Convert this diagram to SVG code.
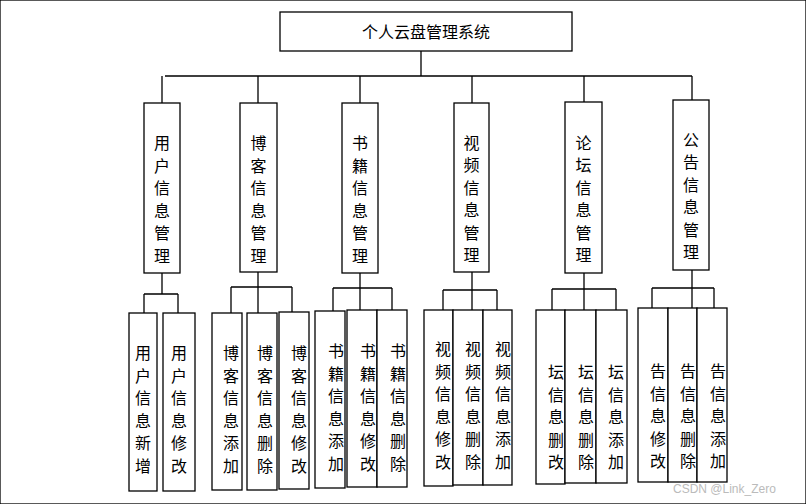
<svg xmlns="http://www.w3.org/2000/svg" width="806" height="504" viewBox="0 0 806 504">
<style>
rect{fill:#fff;stroke:#000;stroke-width:1.3}
.c path{fill:none;stroke:#000;stroke-width:1.3}
text{font-family:"Noto Sans CJK SC","Noto Sans",sans-serif;font-size:16px;fill:#000;text-anchor:middle}
.wm{font-family:"Liberation Sans",sans-serif;font-size:12px;fill:#bbb;text-anchor:start}
</style>
<rect width="806" height="504" fill="#fff" stroke="none"/>
<g class="c">
<path d="M421 51V76M165 76H692M162 76V103M258 76V103M360 76V103M472 76V103M584 76V102M692 76V100"/>
<path d="M162 273V294M144 294H178M144 294V313M178 294V313"/>
<path d="M258 272V287M231 287H292M231 287V313M258 287V313M292 287V312"/>
<path d="M360 273V288M333 288H392M333 288V311M360 288V310M392 288V310"/>
<path d="M472 272V290M443 290H497M443 290V310M472 290V310M497 290V310"/>
<path d="M584 273V289M552 289H616M552 289V310M584 289V310M616 289V310"/>
<path d="M692 270V288M652 288H714M652 288V308M692 288V308M714 288V308"/>
</g>
<g id="root"><rect x="280" y="12" width="292" height="39"/><text x="426" y="38">个人云盘管理系统</text></g>
<g id="n1"><rect x="144" y="103" width="36" height="170"/><text y="149"><tspan x="162">用</tspan><tspan x="162" dy="22.6">户</tspan><tspan x="162" dy="22.6">信</tspan><tspan x="162" dy="22.6">息</tspan><tspan x="162" dy="22.6">管</tspan><tspan x="162" dy="22.6">理</tspan></text></g>
<g id="n2"><rect x="240" y="103" width="37" height="169"/><text y="149"><tspan x="258.5">博</tspan><tspan x="258.5" dy="22.6">客</tspan><tspan x="258.5" dy="22.6">信</tspan><tspan x="258.5" dy="22.6">息</tspan><tspan x="258.5" dy="22.6">管</tspan><tspan x="258.5" dy="22.6">理</tspan></text></g>
<g id="n3"><rect x="342" y="103" width="36" height="170"/><text y="149"><tspan x="360">书</tspan><tspan x="360" dy="22.6">籍</tspan><tspan x="360" dy="22.6">信</tspan><tspan x="360" dy="22.6">息</tspan><tspan x="360" dy="22.6">管</tspan><tspan x="360" dy="22.6">理</tspan></text></g>
<g id="n4"><rect x="454" y="103" width="35" height="169"/><text y="149"><tspan x="471.5">视</tspan><tspan x="471.5" dy="22.4">频</tspan><tspan x="471.5" dy="22.4">信</tspan><tspan x="471.5" dy="22.4">息</tspan><tspan x="471.5" dy="22.4">管</tspan><tspan x="471.5" dy="22.4">理</tspan></text></g>
<g id="n5"><rect x="565" y="102" width="37" height="171"/><text y="149"><tspan x="583.5">论</tspan><tspan x="583.5" dy="22.4">坛</tspan><tspan x="583.5" dy="22.4">信</tspan><tspan x="583.5" dy="22.4">息</tspan><tspan x="583.5" dy="22.4">管</tspan><tspan x="583.5" dy="22.4">理</tspan></text></g>
<g id="n6"><rect x="673" y="100" width="36" height="170"/><text y="146"><tspan x="691">公</tspan><tspan x="691" dy="22.4">告</tspan><tspan x="691" dy="22.4">信</tspan><tspan x="691" dy="22.4">息</tspan><tspan x="691" dy="22.4">管</tspan><tspan x="691" dy="22.4">理</tspan></text></g>

<g id="l1a"><rect x="129" y="313" width="28" height="178"/><text y="359"><tspan x="143">用</tspan><tspan x="143" dy="22.5">户</tspan><tspan x="143" dy="22.5">信</tspan><tspan x="143" dy="22.5">息</tspan><tspan x="143" dy="22.5">新</tspan><tspan x="143" dy="22.5">增</tspan></text></g>
<g id="l1b"><rect x="163" y="313" width="32" height="178"/><text y="359"><tspan x="179">用</tspan><tspan x="179" dy="22.5">户</tspan><tspan x="179" dy="22.5">信</tspan><tspan x="179" dy="22.5">息</tspan><tspan x="179" dy="22.5">修</tspan><tspan x="179" dy="22.5">改</tspan></text></g>
<g id="l2a"><rect x="212" y="313" width="30" height="177"/><text y="359"><tspan x="231">博</tspan><tspan x="231" dy="22.5">客</tspan><tspan x="231" dy="22.5">信</tspan><tspan x="231" dy="22.5">息</tspan><tspan x="231" dy="22.5">添</tspan><tspan x="231" dy="22.5">加</tspan></text></g>
<g id="l2b"><rect x="247" y="313" width="30" height="177"/><text y="359"><tspan x="265">博</tspan><tspan x="265" dy="22.5">客</tspan><tspan x="265" dy="22.5">信</tspan><tspan x="265" dy="22.5">息</tspan><tspan x="265" dy="22.5">删</tspan><tspan x="265" dy="22.5">除</tspan></text></g>
<g id="l2c"><rect x="279" y="312" width="30" height="177"/><text y="359"><tspan x="299">博</tspan><tspan x="299" dy="22.5">客</tspan><tspan x="299" dy="22.5">信</tspan><tspan x="299" dy="22.5">息</tspan><tspan x="299" dy="22.5">修</tspan><tspan x="299" dy="22.5">改</tspan></text></g>
<g id="l3a"><rect x="315" y="311" width="30" height="177"/><text y="357"><tspan x="336">书</tspan><tspan x="336" dy="22.5">籍</tspan><tspan x="336" dy="22.5">信</tspan><tspan x="336" dy="22.5">息</tspan><tspan x="336" dy="22.5">添</tspan><tspan x="336" dy="22.5">加</tspan></text></g>
<g id="l3b"><rect x="347" y="310" width="30" height="177"/><text y="357"><tspan x="368">书</tspan><tspan x="368" dy="22.5">籍</tspan><tspan x="368" dy="22.5">信</tspan><tspan x="368" dy="22.5">息</tspan><tspan x="368" dy="22.5">修</tspan><tspan x="368" dy="22.5">改</tspan></text></g>
<g id="l3c"><rect x="377" y="310" width="30" height="177"/><text y="357"><tspan x="398">书</tspan><tspan x="398" dy="22.5">籍</tspan><tspan x="398" dy="22.5">信</tspan><tspan x="398" dy="22.5">息</tspan><tspan x="398" dy="22.5">删</tspan><tspan x="398" dy="22.5">除</tspan></text></g>
<g id="l4a"><rect x="424" y="310" width="29" height="176"/><text y="355"><tspan x="443">视</tspan><tspan x="443" dy="22.5">频</tspan><tspan x="443" dy="22.5">信</tspan><tspan x="443" dy="22.5">息</tspan><tspan x="443" dy="22.5">修</tspan><tspan x="443" dy="22.5">改</tspan></text></g>
<g id="l4b"><rect x="453" y="310" width="30" height="175"/><text y="355"><tspan x="473">视</tspan><tspan x="473" dy="22.5">频</tspan><tspan x="473" dy="22.5">信</tspan><tspan x="473" dy="22.5">息</tspan><tspan x="473" dy="22.5">删</tspan><tspan x="473" dy="22.5">除</tspan></text></g>
<g id="l4c"><rect x="483" y="310" width="29" height="175"/><text y="355"><tspan x="503">视</tspan><tspan x="503" dy="22.5">频</tspan><tspan x="503" dy="22.5">信</tspan><tspan x="503" dy="22.5">息</tspan><tspan x="503" dy="22.5">添</tspan><tspan x="503" dy="22.5">加</tspan></text></g>
<g id="l5a"><rect x="536" y="310" width="29" height="174"/><text y="378"><tspan x="556">坛</tspan><tspan x="556" dy="22.5">信</tspan><tspan x="556" dy="22.5">息</tspan><tspan x="556" dy="22.5">删</tspan><tspan x="556" dy="22.5">改</tspan></text></g>
<g id="l5b"><rect x="565" y="310" width="31" height="173"/><text y="378"><tspan x="586">坛</tspan><tspan x="586" dy="22.5">信</tspan><tspan x="586" dy="22.5">息</tspan><tspan x="586" dy="22.5">删</tspan><tspan x="586" dy="22.5">除</tspan></text></g>
<g id="l5c"><rect x="596" y="310" width="31" height="173"/><text y="378"><tspan x="616">坛</tspan><tspan x="616" dy="22.5">信</tspan><tspan x="616" dy="22.5">息</tspan><tspan x="616" dy="22.5">添</tspan><tspan x="616" dy="22.5">加</tspan></text></g>
<g id="l6a"><rect x="638" y="308" width="30" height="174"/><text y="377"><tspan x="658">告</tspan><tspan x="658" dy="22.5">信</tspan><tspan x="658" dy="22.5">息</tspan><tspan x="658" dy="22.5">修</tspan><tspan x="658" dy="22.5">改</tspan></text></g>
<g id="l6b"><rect x="668" y="308" width="29" height="174"/><text y="377"><tspan x="688">告</tspan><tspan x="688" dy="22.5">信</tspan><tspan x="688" dy="22.5">息</tspan><tspan x="688" dy="22.5">删</tspan><tspan x="688" dy="22.5">除</tspan></text></g>
<g id="l6c"><rect x="697" y="308" width="30" height="174"/><text y="377"><tspan x="718">告</tspan><tspan x="718" dy="22.5">信</tspan><tspan x="718" dy="22.5">息</tspan><tspan x="718" dy="22.5">添</tspan><tspan x="718" dy="22.5">加</tspan></text></g>
<text class="wm" x="673" y="493">CSDN @Link_Zero</text>
</svg>
